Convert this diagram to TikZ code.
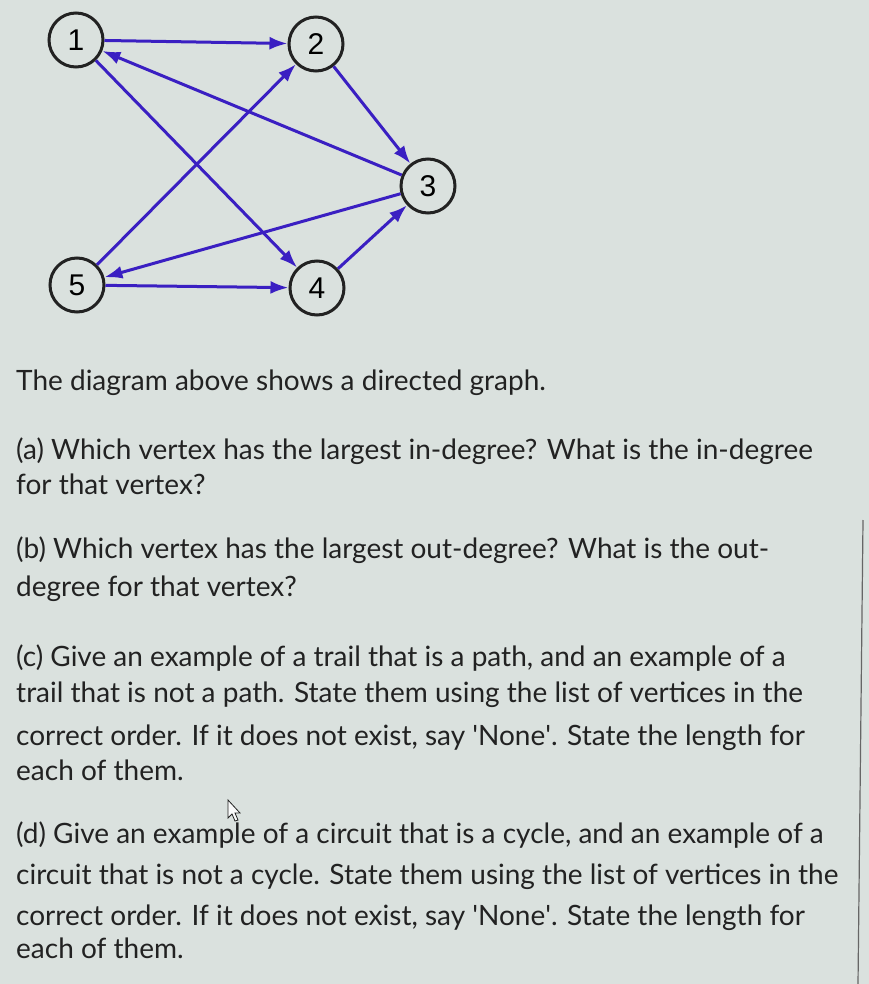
\documentclass[tikz,border=0pt]{standalone}
\usepackage{fontspec}
\setmainfont{Lato}
\newfontfamily\numfont{Liberation Sans}
\usetikzlibrary{arrows.meta}
\definecolor{screen}{HTML}{DAE1DE}
\definecolor{edgeblue}{HTML}{3A1FC2}
\definecolor{ink}{HTML}{222222}
\newcommand\sq{\textquotesingle}
\tikzset{
	vertex/.style={draw=ink, circle, line width=3pt, minimum size=54pt, inner sep=0pt, fill=screen, font=\numfont\fontsize{30}{30}\selectfont},
	arc/.style={draw=edgeblue, line width=3pt, -{Latex[length=18pt,width=13pt]}},
	qline/.style={anchor=base west, inner sep=0pt, text=ink, font=\fontsize{28}{28}\selectfont}}

\begin{document}
\begin{tikzpicture}[x=1pt,y=-1pt]
\fill[screen] (0,0) rectangle (869,984);
\useasboundingbox (0,0) rectangle (869,984);

% the graph
\node[vertex] (v1) at (76,40) {1};
\node[vertex] (v2) at (316,44) {2};
\node[vertex] (v3) at (428,186) {3};
\node[vertex] (v4) at (317,288) {4};
\node[vertex] (v5) at (77,285) {5};

\foreach \a/\b in {v1/v2, v2/v3, v3/v1, v3/v5, v1/v4, v5/v2, v5/v4, v4/v3}
	\draw[arc] (\a) -- (\b);

% the questions
\foreach[count=\i] \y/\txt in {
	390/{The diagram above shows a directed graph.},
	459/{(a) Which vertex has the largest in-degree? What is the in-degree},
	494/{for that vertex?},
	558/{(b) Which vertex has the largest out-degree? What is the out-},
	596/{degree for that vertex?},
	666/{(c) Give an example of a trail that is a path, and an example of a},
	702/{trail that is not a path. State them using the list of vertices in the},
	745/{correct order. If it does not exist, say \sq None\sq. State the length for},
	780/{each of them.},
	843/{(d) Give an example of a circuit that is a cycle, and an example of a},
	884/{circuit that is not a cycle. State them using the list of vertices in the},
	925/{correct order. If it does not exist, say \sq None\sq. State the length for},
	958/{each of them.}}
	\node[qline] (q\i) at (16,\y) {\txt};

% mouse pointer and window edge
\draw[ink, line width=0.8pt, fill=white!85!screen] (228,800) -- (228,818) -- (232,814) -- (235,821) -- (238,820) -- (235,813) -- (240,813) -- cycle;
\draw[black!60, line width=1.2pt] (863,520) -- (858,984);
\end{tikzpicture}
\end{document}
